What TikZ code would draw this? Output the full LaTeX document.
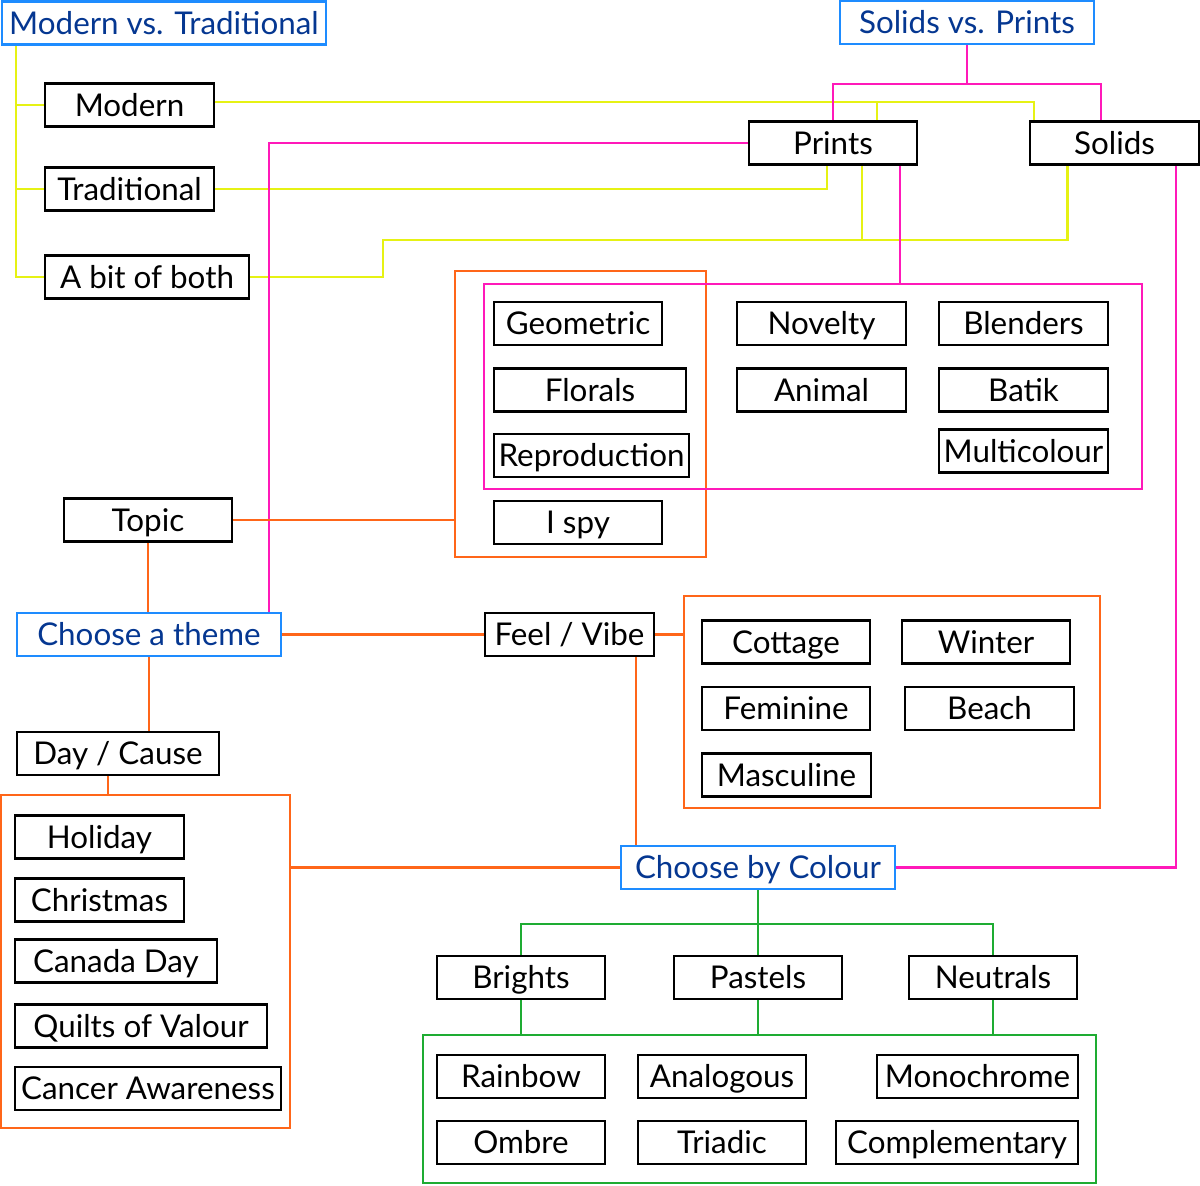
\documentclass[tikz,border=0pt]{standalone}
\usepackage{fontspec}
\setmainfont{Lato}
\usetikzlibrary{calc,positioning}
\definecolor{headblue}{RGB}{30,140,255}
\definecolor{headtext}{RGB}{5,55,145}
\definecolor{lineyellow}{RGB}{230,242,20}
\definecolor{linemagenta}{RGB}{255,25,185}
\definecolor{lineorange}{RGB}{255,102,25}
\definecolor{linegreen}{RGB}{30,172,50}

\begin{document}
\begin{tikzpicture}[x=0.025cm, y=-0.025cm,
		box/.style={draw, line width=1.8pt, inner sep=0pt, minimum height=1.075cm,
			text height=0.72cm, text depth=0.16cm, font=\fontsize{22.3}{26}\selectfont},
		headbox/.style={box, draw=headblue, text=headtext},
		grp/.style={draw=#1, line width=1.5pt, inner sep=0pt},
		link/.style={draw=#1, line width=1.5pt}]

		\useasboundingbox (0,0) rectangle (1200,1185);

		% group frames: name/colour/x/y/width/height
		\foreach \nm/\col/\x/\y/\w/\h in {
			topicgrp/lineorange/580.5/414/251/286,
			printsgrp/linemagenta/813/386.5/658/205,
			feelgrp/lineorange/892/702/416/212,
			daygrp/lineorange/145.5/961.5/289/333,
			colourgrp/linegreen/759.5/1109/673/148}
			\node[grp=\col, minimum width=\w*0.025cm, minimum height=\h*0.025cm] (\nm) at (\x,\y) {};

		% headings
		\node[headbox, minimum width=324*0.025cm] (mvt) at (164,23) {Modern vs. Traditional};
		\node[headbox, minimum width=254*0.025cm] (svp) at (967,22.5) {Solids vs. Prints};
		\node[headbox, minimum width=264*0.025cm] (theme) at (149,634.5) {Choose a theme};
		\node[headbox, minimum width=274*0.025cm] (colour) at (758,867.5) {Choose by Colour};

		% boxes: name/x/y/width/text
		\foreach \nm/\x/\y/\w/\txt in {
			modern/129.5/105/169/Modern,
			trad/129.5/189/169/Traditional,
			both/147/277/204/A bit of both,
			prints/833/143/168/Prints,
			solids/1114.5/143/169/Solids,
			topic/148/520/168/Topic,
			feel/569.5/634.5/169/{Feel / Vibe},
			day/118/753.5/202/{Day / Cause},
			geometric/578/323.5/168/Geometric,
			florals/590/390/192/Florals,
			repro/591.5/455.5/195/Reproduction,
			ispy/578/522.5/168/I spy,
			novelty/821.5/323.5/169/Novelty,
			animal/821.5/390/169/Animal,
			blenders/1023.5/323.5/169/Blenders,
			batik/1023.5/390/169/Batik,
			multi/1023.5/451/169/Multicolour,
			cottage/786/642/168/Cottage,
			winter/986/642/168/Winter,
			feminine/786/708.5/168/Feminine,
			beach/989.5/708.5/169/Beach,
			masculine/786.5/775/169/Masculine,
			holiday/99.5/837/169/Holiday,
			christmas/99.5/900/169/Christmas,
			canada/116/961/202/Canada Day,
			quilts/141/1026/252/Quilts of Valour,
			cancer/148/1088.5/266/Cancer Awareness,
			brights/521/977.5/168/Brights,
			pastels/758/977.5/168/Pastels,
			neutrals/993/977.5/168/Neutrals,
			rainbow/521/1076.5/168/Rainbow,
			analog/722/1076.5/168/Analogous,
			mono/977.5/1076.5/201/Monochrome,
			ombre/521/1142.5/168/Ombre,
			triadic/722/1142.5/168/Triadic,
			compl/957/1142.5/242/Complementary}
			\node[box, minimum width=\w*0.025cm] (\nm) at (\x,\y) {\txt};

		% modern vs. traditional (yellow)
		\coordinate (mvtstem) at ($(mvt.south west)+(15,0)$);
		\draw[link=lineyellow] (mvtstem) |- (both.west);
		\draw[link=lineyellow] (modern.west) -- (modern.west -| mvtstem);
		\draw[link=lineyellow] (trad.west) -- (trad.west -| mvtstem);
		\coordinate (modrun) at ($(modern.east)+(0,-3)$);
		\coordinate (prtop) at ($(prints.north)+(44,0)$);
		\draw[link=lineyellow] (modrun) -| ($(solids.north west)+(5,0)$);
		\draw[link=lineyellow] (prtop) -- (prtop |- modrun);
		\draw[link=lineyellow] (trad.east) -| ($(prints.south)+(-6,0)$);
		\coordinate (bothrun) at (383,240);
		\coordinate (prbot) at ($(prints.south)+(29,0)$);
		\draw[link=lineyellow] (both.east) -| (bothrun) -| ($(solids.south)+(-47,0)$);
		\draw[link=lineyellow] (prbot) -- (prbot |- bothrun);

		% solids vs. prints (magenta)
		\coordinate (svpbar) at ($(svp.south)+(0,39)$);
		\draw[link=linemagenta] (svp.south) -- (svpbar);
		\draw[link=linemagenta] (prints.north) |- (svpbar) -| ($(solids.north)+(-13.5,0)$);
		\draw[link=linemagenta] (prints.west) -| ($(theme.north east)+(-13,0)$);
		\coordinate (prgrp) at ($(prints.south)+(67,0)$);
		\draw[link=linemagenta] (prgrp) -- (prgrp |- printsgrp.north);
		\draw[link=linemagenta] ($(solids.south)+(61.5,0)$) |- (colour.east);

		% theme (orange)
		\draw[link=lineorange] (topic.east) -- (topic.east -| topicgrp.west);
		\draw[link=lineorange] (topic.south) -- (topic.south |- theme.north);
		\draw[link=lineorange] (theme.east) -- (feel.west);
		\draw[link=lineorange] (feel.east) -- (feel.east -| feelgrp.west);
		\coordinate (feeldown) at ($(feel.south)+(66.5,0)$);
		\draw[link=lineorange] (feeldown) -- (feeldown |- colour.north);
		\draw[link=lineorange] (theme.south) -- (theme.south |- day.north);
		\coordinate (daydown) at ($(day.south)+(-10,0)$);
		\draw[link=lineorange] (daydown) -- (daydown |- daygrp.north);
		\draw[link=lineorange] (daygrp.east |- colour.west) -- (colour.west);

		% colour (green)
		\coordinate (cbar) at ($(colour.south)+(0,34)$);
		\draw[link=linegreen] (colour.south) -- (cbar);
		\draw[link=linegreen] (brights.north) |- (cbar) -| (neutrals.north);
		\draw[link=linegreen] (pastels.north) -- (pastels.north |- cbar);
		\foreach \nm in {brights,pastels,neutrals}
			\draw[link=linegreen] (\nm.south) -- (\nm.south |- colourgrp.north);

	\end{tikzpicture}
\end{document}
